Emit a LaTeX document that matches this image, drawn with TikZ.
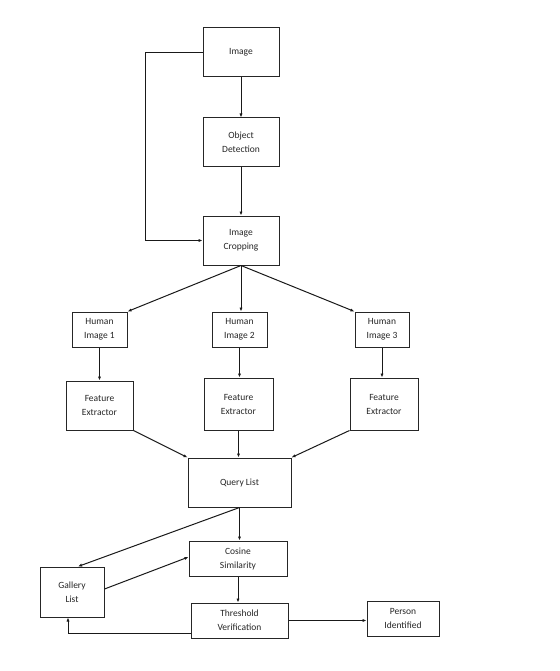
\documentclass[tikz,border=0pt]{standalone}
\usepackage{fontspec}
\setmainfont{Carlito}
\usetikzlibrary{arrows.meta}
\begin{document}
\begin{tikzpicture}[x=1pt,y=-1pt,
  box/.style={draw=black!85, line width=1pt, fill=white, align=center, inner sep=0pt,
    font=\fontsize{9.5}{14}\selectfont, text=black!85},
  arr/.style={draw=black!90, line width=1pt, -{Latex[length=4pt,width=3.2pt]}}]
\useasboundingbox[fill=white] (0,0) rectangle (559,671);
\node[box, minimum width=76pt, minimum height=49pt] (img) at (241,52.5) {Image};
\node[box, minimum width=76pt, minimum height=49pt] (od) at (241,142.5) {Object\\Detection};
\node[box, minimum width=76pt, minimum height=49pt] (ic) at (241,240.5) {Image\\Cropping};
\node[box, minimum width=55pt, minimum height=35pt] (h1) at (99.5,329.5) {Human\\Image 1};
\node[box, minimum width=55pt, minimum height=35pt] (h2) at (239.5,329.5) {Human\\Image 2};
\node[box, minimum width=54pt, minimum height=35pt] (h3) at (382,329.5) {Human\\Image 3};
\node[box, minimum width=67pt, minimum height=49pt] (f1) at (99.5,405.5) {Feature\\Extractor};
\node[box, minimum width=69pt, minimum height=52pt] (f2) at (238.5,404) {Feature\\Extractor};
\node[box, minimum width=68pt, minimum height=52pt] (f3) at (384,404) {Feature\\Extractor};
\node[box, minimum width=103pt, minimum height=49pt] (ql) at (239.5,482.5) {Query List};
\node[box, minimum width=98pt, minimum height=35pt] (cs) at (238,558.5) {Cosine\\Similarity};
\node[box, minimum width=64pt, minimum height=50pt] (gl) at (72,592) {Gallery\\List};
\node[box, minimum width=97pt, minimum height=35pt] (tv) at (239.5,620.5) {Threshold\\Verification};
\node[box, minimum width=72pt, minimum height=35pt] (pi) at (403,618.5) {Person\\Identified};
\coordinate (lp) at (145,52.5);
\draw[arr] (img) -- (od);
\draw[arr] (od) -- (ic);
\draw[arr] (img.west) -- (lp) |- (ic.west);
\draw[arr] (ic.south) -- (h1.north east);
\draw[arr] (ic.south) -- (ic.south |- h2.north);
\draw[arr] (ic.south) -- (h3.north west);
\draw[arr] (h1.south) -- (h1.south |- f1.north);
\draw[arr] (h2.south) -- (h2.south |- f2.north);
\draw[arr] (h3.south) -- (h3.south |- f3.north);
\draw[arr] (f1.south east) -- (ql.north west);
\draw[arr] (f2.south) -- (f2.south |- ql.north);
\draw[arr] (f3.south west) -- (ql.north east);
\draw[arr] (ql.south) -- (ql.south |- cs.north);
\draw[arr] (ql.south) -- ([xshift=6pt]gl.north);
\draw[arr] ([yshift=3pt]gl.east) -- ([yshift=1.5pt]cs.west);
\draw[arr] (cs.south) -- (cs.south |- tv.north);
\draw[arr] (tv.east) -- (tv.east -| pi.west);
\draw[arr] ([yshift=5pt]tv.south west) -| ([xshift=-4pt]gl.south);
\end{tikzpicture}
\end{document}
